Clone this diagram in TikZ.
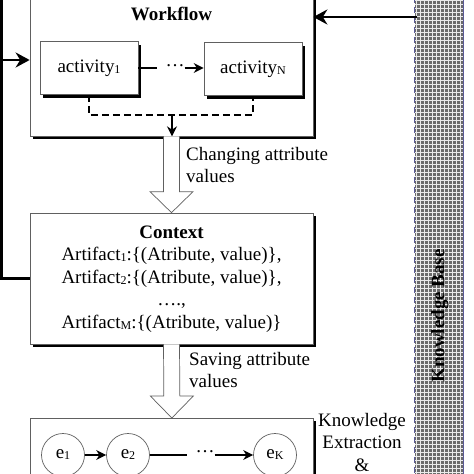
\documentclass[tikz,border=0pt]{standalone}
\usepackage{fontspec}
\setmainfont{Liberation Serif}
\usetikzlibrary{arrows.meta,calc,shadows}
\newcommand{\sbs}[1]{\raisebox{-1pt}{\fontsize{12}{12}\selectfont #1}}
\definecolor{kbblue}{HTML}{5A5A98}
\definecolor{boxline}{HTML}{606060}
\tikzset{
  box/.style={draw=boxline, line width=0.7pt, fill=white, inner sep=0pt,
    drop shadow={shadow xshift=3pt, shadow yshift=-3pt, fill=black, opacity=1}},
  circ/.style={draw=boxline, line width=0.7pt, circle, minimum size=43pt, inner sep=0pt, fill=white},
  thickline/.style={line width=2.8pt, black},
  thickarrow/.style={line width=2.8pt, black, -{Stealth[length=14pt,width=15pt]}},
  smallarrow/.style={line width=1.4pt, black, -{Stealth[length=10pt,width=10pt]}},
  hollow/.style={draw=boxline, line width=0.7pt, fill=white},
  txt/.style={inner sep=0pt, font=\fontsize{19}{22.5}\selectfont},
}
\begin{document}
\begin{tikzpicture}[x=1pt,y=-1pt, every node/.style={font=\fontsize{19}{22.5}\selectfont}]
\useasboundingbox (0,0) rectangle (474,474);
\fill[white] (0,0) rectangle (474,474);

% Knowledge base bar
\node[minimum width=48pt, minimum height=500pt, inner sep=0pt, fill=black!58] (kb) at (439,237) {};
\begin{scope}
  \clip (kb.north west) rectangle (kb.south east);
  \foreach \x in {416,420,...,464} \draw[white!92!black, line width=1pt] (\x,-20) -- (\x,500);
  \foreach \y in {-12,-8,...,490} \draw[white!92!black, line width=1pt] (400,\y) -- (480,\y);
\end{scope}
\draw[kbblue, line width=1pt, dash pattern=on 6pt off 4pt] (kb.north west) -- (kb.south west);
\draw[kbblue, line width=1.2pt] (kb.north east) -- (kb.south east);
\node[rotate=90, font=\fontsize{19}{22}\selectfont\bfseries, inner sep=0pt] (kbl) at (440,316) {Knowledge Base};

% Workflow box
\node[box, minimum width=283pt, minimum height=150pt] (wf) at (171.5,61) {};
\node[txt, font=\fontsize{19}{22.5}\selectfont\bfseries] (wft) at (171.5,14) {Workflow};
\node[box, minimum width=98pt, minimum height=53pt] (a1) at (89,68) {activity\sbs{1}};
\node[box, minimum width=98pt, minimum height=53pt] (aN) at (253,69) {activity\sbs{N}};
\node[txt] (d1) at (175,66) {…};
\draw[line width=1.4pt, shorten >=8pt] (a1.east) -- (d1.west |- a1.east);
\draw[smallarrow] (d1.east |- a1.east) -- (aN.west |- a1.east);
\coordinate (dj) at (172,115);
\draw[line width=1.2pt, dash pattern=on 7pt off 4pt] (a1.south) |- (dj) -| (aN.south);
\draw[smallarrow] (dj) -- (dj |- wf.south);

% Context box
\node[box, minimum width=283pt, minimum height=131pt] (ctx) at (171.5,278.5) {};
\node[txt, align=center] (ctxt) at (171.5,279) {\textbf{Context}\\
Artifact\sbs{1}:\{(Atribute, value)\},\\
Artifact\sbs{2}:\{(Atribute, value)\},\\
….,\\
Artifact\sbs{M}:\{(Atribute, value)\}};

% hollow arrow 1
\draw[hollow] ($(wf.south)+(-8,0)$) -- ($(ctx.north)+(-8,-21)$) -- ($(ctx.north)+(-21.5,-21)$)
  -- (ctx.north) -- ($(ctx.north)+(21.5,-21)$) -- ($(ctx.north)+(8,-21)$) -- ($(wf.south)+(8,0)$);
\node[txt, align=left, anchor=north west] (lab1) at (186,147) {Changing attribute\\values};

% Bottom box
\node[box, minimum width=283pt, minimum height=110pt, anchor=north west] (ke) at (30,418) {};
\draw[hollow] ($(ctx.south)+(-8,0)$) -- ($(ke.north)+(-8,-22)$) -- ($(ke.north)+(-21.5,-22)$)
  -- (ke.north) -- ($(ke.north)+(21.5,-22)$) -- ($(ke.north)+(8,-22)$) -- ($(ctx.south)+(8,0)$);
\node[txt, align=left, anchor=north west] (lab2) at (189,352) {Saving attribute\\values};

\node[circ] (e1) at (63,455) {e\sbs{1}};
\node[circ] (e2) at (128,455) {e\sbs{2}};
\node[circ] (eK) at (275,455) {e\sbs{K}};
\node[txt] (d2) at (205,452) {…};
\draw[smallarrow] (e1) -- (e2);
\draw[line width=1.4pt, shorten >=8pt] (e2.east) -- (d2.west |- e2.east);
\draw[smallarrow] (d2.east |- e2.east) -- (eK.west);
\node[txt, align=center] (ket) at (362,442) {Knowledge\\Extraction\\\&};

% thick connectors
\coordinate (lt) at (1.4,-10);
\coordinate (la) at (1.4,60);
\coordinate (kbin) at (417,17);
\draw[thickline] (lt) |- (ctx.west);
\draw[thickarrow] (la) -- (la -| wf.west);
\draw[thickarrow] (kbin) -- (kbin -| wf.east);
\end{tikzpicture}
\end{document}
